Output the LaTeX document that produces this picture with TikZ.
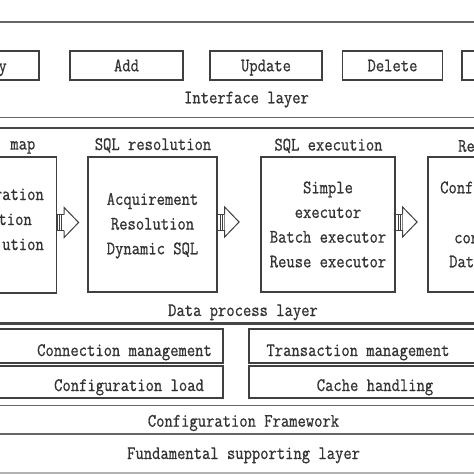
\documentclass[tikz,border=0pt]{standalone}
\usepackage{fontspec}
\setmonofont{Latin Modern Mono}[FakeStretch=0.85, FakeBold=0.8]
\usetikzlibrary{calc}
\tikzset{
  txt/.style={font=\ttfamily\fontsize{19}{24.7}\selectfont, text=black!80, inner sep=0pt},
  layerbox/.style={draw=black!60, line width=1.3pt, inner sep=0pt},
  box/.style={draw=black!75, line width=1.2pt, inner sep=0pt},
  btn/.style={box, txt, minimum height=29pt, text height=11.6pt, text depth=0pt},
  bigarrow/.style={draw=black!75, line width=1pt, fill=white},
  stripe/.style={draw=black!75, line width=1pt},
}
\newcommand\hollowarrow[1]{%
  \draw[bigarrow] (#1) ++(0,-8) rectangle ++(7,16);
  \draw[stripe] (#1) ++(2.6,-8) -- ++(0,16);
  \draw[stripe] (#1) ++(4.4,-8) -- ++(0,16);
  \draw[bigarrow] (#1) ++(7,-8) -- ++(0,-7) -- ++(14.5,15) -- ++(-14.5,15) -- ++(0,-7);
}
\begin{document}
\begin{tikzpicture}[x=1pt,y=-1pt]
\useasboundingbox (0,0) rectangle (474,474);
\clip (0,0) rectangle (474,474);

% ---------------- Interface layer
\node[layerbox, minimum width=520pt, minimum height=95.7pt] (iface) at (237,69.85) {};
\node[btn, minimum width=113pt] (bq) at (-17.5,65.5) {};
\node[txt, anchor=base east] (bqt) at (7,71.7) {y};
\node[btn, minimum width=113pt] (badd) at (126.5,65.5) {Add};
\node[btn, minimum width=112pt] (bupd) at (266,65.5) {Update};
\node[btn, minimum width=99.5pt] (bdel) at (392.5,65.5) {Delete};
\node[btn, minimum width=100pt] (bmore) at (512,65.5) {};
\node[txt, anchor=base] (ifacet) at (246.5,103.3) {Interface layer};

% ---------------- Data process layer
\node[layerbox, draw=black!72, line width=1.7pt, minimum width=520pt, minimum height=194.5pt] (dpl) at (237,225.25) {};
\draw[draw=black!72, line width=2.5pt] (dpl.south west) -- (dpl.south east);

\node[box, minimum width=136.5pt, minimum height=136pt] (b0) at (-11.75,225) {};
\node[box, minimum width=129pt, minimum height=135pt] (b1) at (152.5,224.5) {};
\node[box, minimum width=134pt, minimum height=135pt] (b2) at (328,224.5) {};
\node[box, minimum width=132pt, minimum height=135pt] (b3) at (494,224.5) {};

\node[txt, anchor=base east] (b0l) at (35.5,149.5) {map};
\node[txt, anchor=base] (b1l) at (153,150) {SQL resolution};
\node[txt, anchor=base] (b2l) at (328.5,150.5) {SQL execution};
\node[txt, anchor=base west] (b3l) at (458,151.7) {Re};

\node[txt, anchor=base east] (b0a) at (44,200) {ration};
\node[txt, anchor=base east] (b0b) at (32,225) {tion};
\node[txt, anchor=base east] (b0c) at (44,250) {ution};

\node[txt, align=center] (b1t) at ($(b1.center)+(0,1.3)$) {Acquirement\\Resolution\\Dynamic SQL};
\node[txt, align=center] (b2t) at ($(b2.center)+(0,0)$) {Simple\\executor\\Batch executor\\Reuse executor};

\node[txt, anchor=base west] (b3a) at (440,193.3) {Conf};
\node[txt, anchor=base west] (b3b) at (454,243.3) {con};
\node[txt, anchor=base west] (b3c) at (449,267.3) {Dat};

\hollowarrow{$(b0.east)+(0,-2.5)$}
\hollowarrow{$(b1.east)+(0,-2.5)$}
\hollowarrow{$(b2.east)+(0,-2.5)$}

\node[txt, anchor=base] (dplt) at (243,316) {Data process layer};

% ---------------- Lower service boxes
\node[box, minimum width=303pt, minimum height=34pt] (cm) at (71.5,346) {};
\node[box, minimum width=303pt, minimum height=32pt] (cl) at (71.5,382) {};
\node[box, minimum width=311pt, minimum height=34pt] (tm) at (404.5,346) {};
\node[box, minimum width=311pt, minimum height=32pt] (ch) at (404.5,382) {};
\node[txt, anchor=base] (cmt) at (124.5,356) {Connection management};
\node[txt, anchor=base] (clt) at (129,391) {Configuration load};
\node[txt, anchor=base] (tmt) at (358,356) {Transaction management};
\node[txt, anchor=base] (cht) at (375,391) {Cache handling};

% ---------------- Framework / fundamental
\node[layerbox, minimum width=520pt, minimum height=28.3pt] (cfw) at (237,419.85) {};
\node[layerbox, minimum width=520pt, minimum height=38.3pt] (fsl) at (237,453.15) {};
\draw[draw=black!30, line width=2.5pt] (fsl.south west) -- (fsl.south east);
\node[txt, anchor=base] (cfwt) at (243.5,426.7) {Configuration Framework};
\node[txt, anchor=base] (fslt) at (243.6,459) {Fundamental supporting layer};
\end{tikzpicture}
\end{document}
